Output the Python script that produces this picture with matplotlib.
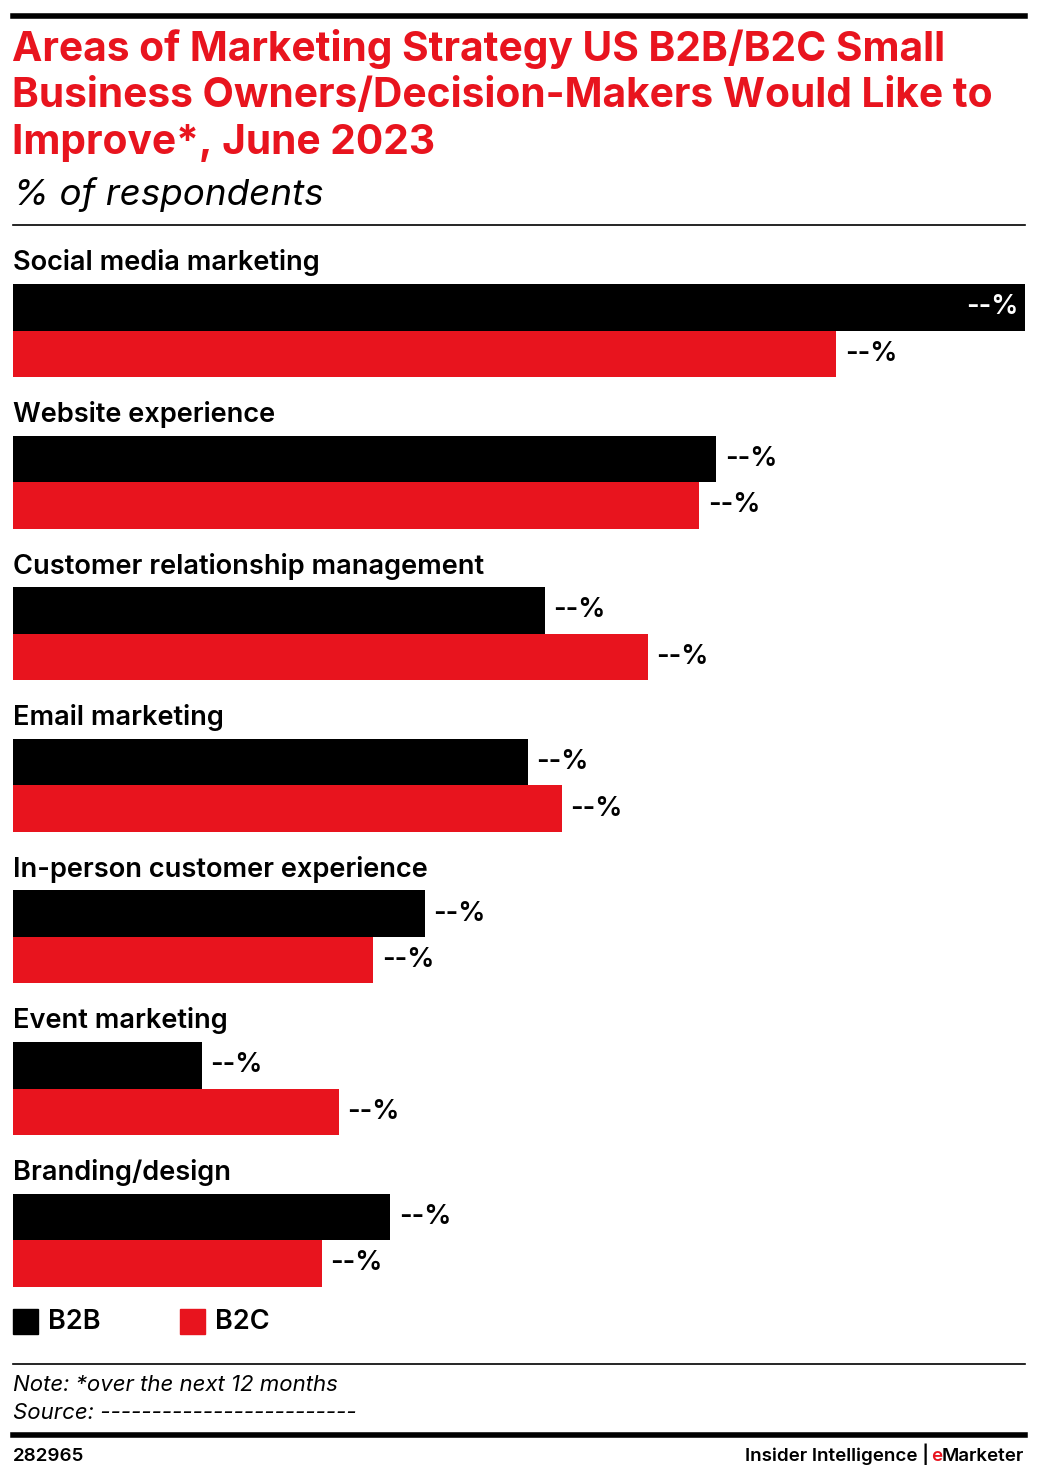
import matplotlib
matplotlib.use("Agg")
import matplotlib.pyplot as plt

categories = ["Social media marketing", "Website experience", "Customer relationship management",
              "Email marketing", "In-person customer experience", "Event marketing", "Branding/design"]
b2b = [59, 41, 31, 30, 24, 11, 22]
b2c = [48, 40, 37, 32, 21, 19, 18]
value_labels = "--%"
RED = "#e8141e"
plt.rcParams['font.family'] = ['Inter', 'DejaVu Sans']

W, H = 1038, 1480
fig = plt.figure(figsize=(W/100, H/100), dpi=100)

def fy(p): return 1 - p/H
def fx(p): return p/W

fig.add_artist(plt.Line2D([fx(13), fx(1025)], [fy(16), fy(16)], color='black', lw=4))
for k, line in enumerate(["Areas of Marketing Strategy US B2B/B2C Small",
                          "Business Owners/Decision-Makers Would Like to",
                          "Improve*, June 2023"]):
    fig.text(fx(12), fy(49 + k*47), line, color=RED, fontsize=29.3, fontweight='bold', va='center')
fig.text(fx(13), fy(194), "% of respondents", fontsize=26.5, style='italic', va='center')
fig.add_artist(plt.Line2D([fx(13), fx(1025)], [fy(225), fy(225)], color='black', lw=1.2))

top, bot = 240, 1300
ax = fig.add_axes([fx(13), fy(bot), fx(1025)-fx(13), (bot-top)/H])
ax.set_xlim(0, 59)
ax.set_ylim(bot, top)
ax.axis('off')
pitch = 151.6
bh = 46.5
for i, c in enumerate(categories):
    y0 = 284 + i*pitch
    ax.text(0, y0 - 21, c, fontsize=19.6, fontweight='semibold', va='center')
    ax.barh(y0 + bh/2, b2b[i], height=bh, color='black')
    ax.barh(y0 + bh + bh/2, b2c[i], height=bh, color=RED)
    if b2b[i] >= 57:
        ax.text(b2b[i] - 0.4, y0 + bh/2, value_labels, color='white', fontsize=19.5, fontweight='semibold', ha='right', va='center')
    else:
        ax.text(b2b[i] + 0.5, y0 + bh/2, value_labels, fontsize=19.5, fontweight='semibold', va='center')
    ax.text(b2c[i] + 0.5, y0 + bh*1.5, value_labels, fontsize=19.5, fontweight='semibold', va='center')

for x, col, lab in [(13, 'black', 'B2B'), (180, RED, 'B2C')]:
    fig.add_artist(plt.Rectangle((fx(x), fy(1334)), fx(25), 25/H, color=col))
    fig.text(fx(x + 35), fy(1322), lab, fontsize=19.5, fontweight='semibold', va='center')

fig.add_artist(plt.Line2D([fx(13), fx(1025)], [fy(1364), fy(1364)], color='black', lw=1.2))
fig.text(fx(13), fy(1385), "Note: *over the next 12 months", fontsize=16, style='italic', va='center')
fig.text(fx(13), fy(1413), "Source: -------------------------", fontsize=16, style='italic', va='center')
fig.add_artist(plt.Line2D([fx(13), fx(1025)], [fy(1435), fy(1435)], color='black', lw=4))
fig.text(fx(13), fy(1461), "282965", fontsize=13.5, fontweight='semibold', va='baseline')
t = fig.text(fx(1024), fy(1461), "Marketer", fontsize=13.5, fontweight='semibold', va='baseline', ha='right')
fig.canvas.draw()
r = fig.canvas.get_renderer()
bb = t.get_window_extent(renderer=r)
t2 = fig.text(bb.x0/W, fy(1461), "e", fontsize=13.5, fontweight='semibold', va='baseline', ha='right', color=RED)
bb2 = t2.get_window_extent(renderer=r)
fig.text(bb2.x0/W - 0.002, fy(1461), "Insider Intelligence |", fontsize=13.5, fontweight='semibold', va='baseline', ha='right')
fig.savefig("out.png", dpi=100)
